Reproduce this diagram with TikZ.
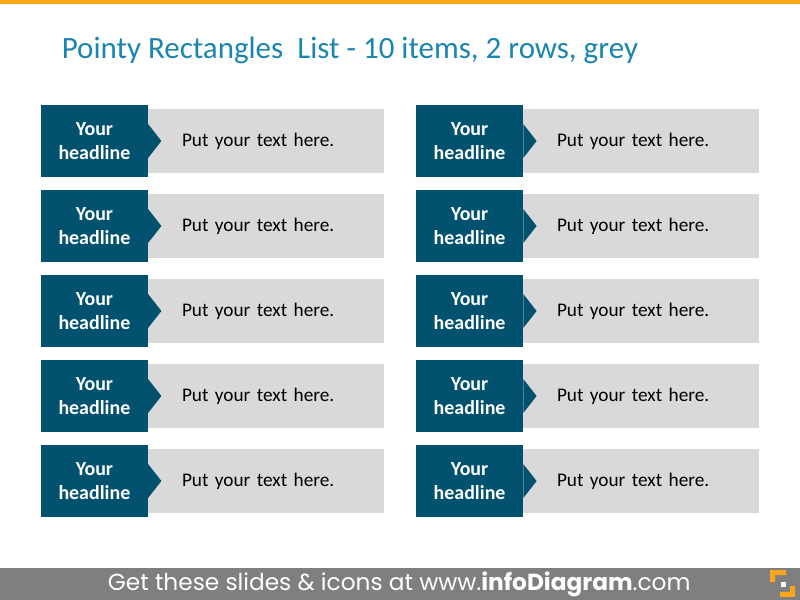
\documentclass[tikz,border=0pt]{standalone}
\usepackage{fontspec}
\setmainfont{Carlito}
\newfontfamily\barfont{Poppins}
\usepackage{tikz}
\usetikzlibrary{shapes.geometric}
\definecolor{headblue}{HTML}{02526F}
\definecolor{bodygrey}{HTML}{D9D9D9}
\definecolor{titleblue}{HTML}{1A85B0}
\definecolor{topbar}{HTML}{FAA61A}
\definecolor{footgrey}{HTML}{7F7F7F}
\tikzset{
  headbox/.style={shape=rectangle,fill=headblue,text=white,minimum height=0.9in,minimum width=1.34in,inner sep=0pt,align=center,font=\bfseries\fontsize{18}{21.6}\selectfont},
  bodybox/.style={shape=rectangle,fill=bodygrey,minimum height=0.79in,minimum width=2.95in,text width=2.1in,inner xsep=0.42in,inner ysep=0pt,align=left,font=\fontsize{17.4}{21}\selectfont},
}

\begin{document}
\begin{tikzpicture}

\useasboundingbox (0,0) rectangle (10in,-7.5in);

\fill[topbar] (0,0) rectangle (10in,-0.05in);

\path (0.77in,-0.73in) node (title) [anchor=base west,inner xsep=0pt,text=titleblue,font=\fontsize{28}{33}\selectfont]{Pointy Rectangles\ \ List - 10 items, 2 rows, grey};

% left column
\path (3.325in,-1.7625in) node (b1) [bodybox]{Put your text here.};
\path (3.325in,-2.825in) node (b2) [bodybox]{Put your text here.};
\path (3.325in,-3.8875in) node (b3) [bodybox]{Put your text here.};
\path (3.325in,-4.95in) node (b4) [bodybox]{Put your text here.};
\path (3.325in,-6.0125in) node (b5) [bodybox]{Put your text here.};

\path (1.18in,-1.7625in) node (h1) [headbox]{Your\\headline};
\path (1.18in,-2.825in) node (h2) [headbox]{Your\\headline};
\path (1.18in,-3.8875in) node (h3) [headbox]{Your\\headline};
\path (1.18in,-4.95in) node (h4) [headbox]{Your\\headline};
\path (1.18in,-6.0125in) node (h5) [headbox]{Your\\headline};

% right column
\path (8.0125in,-1.7625in) node (b6) [bodybox]{Put your text here.};
\path (8.0125in,-2.825in) node (b7) [bodybox]{Put your text here.};
\path (8.0125in,-3.8875in) node (b8) [bodybox]{Put your text here.};
\path (8.0125in,-4.95in) node (b9) [bodybox]{Put your text here.};
\path (8.0125in,-6.0125in) node (b10) [bodybox]{Put your text here.};

\path (5.87in,-1.7625in) node (h6) [headbox]{Your\\headline};
\path (5.87in,-2.825in) node (h7) [headbox]{Your\\headline};
\path (5.87in,-3.8875in) node (h8) [headbox]{Your\\headline};
\path (5.87in,-4.95in) node (h9) [headbox]{Your\\headline};
\path (5.87in,-6.0125in) node (h10) [headbox]{Your\\headline};

% pointers
\foreach \h in {h1,h2,h3,h4,h5,h6,h7,h8,h9,h10}
  \fill[headblue] ([yshift=0.21in]\h.east) -- ([xshift=0.165in]\h.east) -- ([yshift=-0.21in]\h.east) -- cycle;

% footer
\fill[footgrey] (0,-7.1in) rectangle (10in,-7.5in);
\path (4.99in,-7.31in) node (foot) [text=white,font=\barfont\fontsize{21}{25}\selectfont]{Get these slides \& icons at www.\textbf{infoDiagram}.com};

\fill[topbar] (9.625in,-7.125in) -- (9.825in,-7.125in) -- (9.825in,-7.1875in) -- (9.6875in,-7.1875in) -- (9.6875in,-7.275in) -- (9.625in,-7.275in) -- cycle;
\fill[white] (9.76in,-7.27in) rectangle (9.825in,-7.335in);
\fill[topbar] (9.94in,-7.46in) -- (9.75in,-7.46in) -- (9.75in,-7.3975in) -- (9.8775in,-7.3975in) -- (9.8775in,-7.325in) -- (9.94in,-7.325in) -- cycle;

\end{tikzpicture}
\end{document}
